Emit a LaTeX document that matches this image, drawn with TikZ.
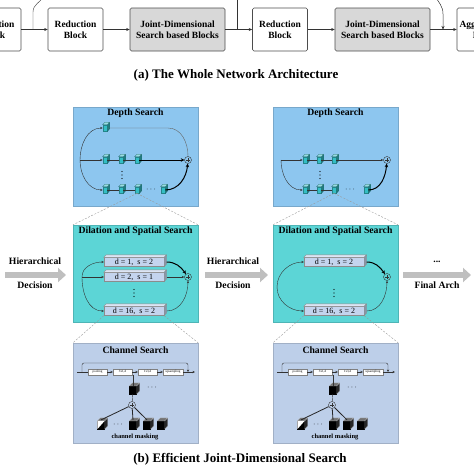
\documentclass[tikz,border=0pt]{standalone}
\usepackage{fontspec}
\setmainfont{Liberation Serif}
\usetikzlibrary{arrows.meta,positioning}
\newcommand\colorLink{black!80}
\newcommand\colorZoom{gray!80}
\definecolor{depthbg}{RGB}{141,198,239}
\definecolor{dilatebg}{RGB}{92,213,214}
\definecolor{chanbg}{RGB}{189,207,233}
\definecolor{cubeteal}{RGB}{52,190,196}
\definecolor{slabblue}{RGB}{196,212,238}
\definecolor{blockgray}{RGB}{216,216,216}

\tikzset{
	netblock/.style={draw=black!70, line width=0.6pt, rounded corners=1.5pt, minimum width=55pt, minimum height=43pt, align=center, inner sep=1pt, font=\fontsize{9.5}{11}\selectfont\bfseries},
	flow/.style={color=\colorLink, line width=0.5pt, -{Stealth[length=3.5pt,width=3pt]}},
	arr/.style={color=\colorLink, line width=0.4pt, -{Stealth[length=2.5pt,width=2.2pt]}},
	boldarr/.style={color=black, line width=1pt, -{Stealth[length=3.5pt,width=3.5pt]}},
	link/.style={color=\colorLink, line width=0.4pt},
	masklink/.style={color=black!85, line width=0.8pt},
	zoomline/.style={color=\colorZoom, line width=0.4pt, dash pattern=on 2pt off 1.5pt},
	panel/.style={fill=#1, draw=#1!85!black, line width=0.3pt, minimum width=125pt, inner sep=0pt},
	paneltitle/.style={font=\fontsize{9.7}{11}\selectfont\bfseries, inner sep=1pt},
	captext/.style={font=\fontsize{13}{15}\selectfont\bfseries},
	decisiontext/.style={font=\fontsize{9.7}{11}\selectfont\bfseries},
	decarrow/.style={draw=gray!50, line width=6pt, -{Triangle[length=8pt,width=14pt]}},
	cubefront/.style={fill=cubeteal, draw=cubeteal!70!black, line width=0.2pt, minimum width=4.5pt, minimum height=6.5pt, inner sep=0pt},
	slabfront/.style={fill=slabblue, draw=black!45, line width=0.3pt, minimum width=60pt, minimum height=9pt, inner sep=0pt, font=\fontsize{8}{8}\selectfont},
	kfront/.style={fill=black, draw=black, line width=0.2pt, minimum width=7pt, minimum height=8pt, inner sep=0pt},
	opbox/.style={fill=white, draw=black!50, line width=0.25pt, minimum width=19pt, minimum height=6pt, inner sep=0pt, font=\fontsize{3.2}{3.2}\selectfont},
	sumnode/.style={circle, draw=black!80, line width=0.4pt, minimum size=7pt, inner sep=0pt, path picture={\draw[line width=0.3pt] ([xshift=-2pt]path picture bounding box.center) -- ([xshift=2pt]path picture bounding box.center) ([yshift=-2pt]path picture bounding box.center) -- ([yshift=2pt]path picture bounding box.center);}},
	hdots/.style={font=\fontsize{8}{8}\selectfont\bfseries, inner sep=0pt},
	masktext/.style={font=\fontsize{6.5}{7}\selectfont\bfseries, inner sep=0pt},
}

\newcommand\tealcube[2]{
	\node[cubefront] (#1) at (#2) {};
	\filldraw[fill=cubeteal!65!black, draw=cubeteal!50!black, line width=0.2pt] (#1.north east) -- ++(2.5,2.5) -- ++(0,-6.5) -- (#1.south east) -- cycle;
	\filldraw[fill=cubeteal!50!white, draw=cubeteal!50!black, line width=0.2pt] (#1.north west) -- ++(2.5,2.5) -- ++(4.5,0) -- (#1.north east) -- cycle;
}
\newcommand\slab[3]{
	\node[slabfront] (#1) at (#2) {#3};
	\filldraw[fill=slabblue!60!white, draw=black!45, line width=0.3pt] (#1.north west) -- ++(2.5,2.5) -- ++(60,0) -- (#1.north east) -- cycle;
	\filldraw[fill=slabblue!70!black, draw=black!45, line width=0.3pt] (#1.north east) -- ++(2.5,2.5) -- ++(0,-9) -- (#1.south east) -- cycle;
}
\newcommand\blackcube[2]{
	\node[kfront] (#1) at (#2) {};
	\filldraw[fill=black!85, draw=white!70!black, line width=0.2pt] (#1.north east) -- ++(3,3) -- ++(0,-8) -- (#1.south east) -- cycle;
	\filldraw[fill=black!55, draw=white!70!black, line width=0.2pt] (#1.north west) -- ++(3,3) -- ++(7,0) -- (#1.north east) -- cycle;
}
\newcommand\vdotsat[2]{
	\foreach \k in {-1,0,1}{
		\fill[black] (#1,#2+\k*3.5) circle (0.7pt);
	}
}

\begin{document}
\begin{tikzpicture}[x=1pt,y=1pt]
	\useasboundingbox (0,0) rectangle (474,-474);
	\clip (0,0) rectangle (474,-474);

	\node[netblock] (red0) at (-6.5,-29.5) {Reduction\\Block};
	\node[netblock] (red1) at (75.5,-29.5) {Reduction\\Block};
	\node[netblock, fill=blockgray, minimum width=95pt] (jds1) at (177.5,-29.5) {Joint-Dimensional\\Search based Blocks};
	\node[netblock] (red2) at (280,-29.5) {Reduction\\Block};
	\node[netblock, fill=blockgray, minimum width=95pt] (jds2) at (382.5,-29.5) {Joint-Dimensional\\Search based Blocks};
	\node[netblock] (agg) at (484.5,-29.5) {Aggregation\\Block};
	\foreach \a/\b in {red0/red1,red1/jds1,jds1/red2,red2/jds2,jds2/agg}{
		\draw[flow] (\a) -- (\b);
	}
	\coordinate (skA) at (33,-29.5);
	\coordinate (skAend) at (44,4);
	\coordinate (skB) at (237,-29.5);
	\coordinate (skBend) at (237,4);
	\coordinate (skCend) at (435,4);
	\coordinate (skC) at (443,-29.5);
	\draw[link] (skA) -- (33,-12) to[out=90,in=-120] (skAend);
	\draw[link] (skB) -- (skBend);
	\draw[flow] (skCend) to[out=-60,in=90] (443,-14) -- (skC);
	\node[captext] (capA) at (236,-75) {(a) The Whole Network Architecture};

	\foreach \s/\ox in {L/0,R/200}{
		\node[panel=depthbg, minimum height=99pt] (dep\s) at (135.5+\ox,-156.5) {};
		\node[panel=dilatebg, minimum height=97pt] (dil\s) at (135.5+\ox,-273.5) {};
		\node[panel=chanbg, minimum height=100pt] (chan\s) at (135.5+\ox,-393) {};
		\node[paneltitle, below=1pt of dep\s.north] (tdep\s) {Depth Search};
		\node[paneltitle, below=1pt of dil\s.north] (tdil\s) {Dilation and Spatial Search};
		\node[paneltitle, below=3pt of chan\s.north] (tchan\s) {Channel Search};
	}

	\coordinate (eDL) at (80,-160);
	\tealcube{cL11}{105,-128}
	\foreach \i/\x in {1/105,2/121,3/137}{
		\tealcube{cL2\i}{\x,-160}
		\tealcube{cL3\i}{\x,-190}
	}
	\tealcube{cL35}{163,-190}
	\node[hdots] (hdL) at (151,-190) {$\cdots$};
	\vdotsat{122}{-175}
	\node[sumnode] (pDL) at (188,-160) {};
	\draw[arr] (eDL) to[out=90,in=180] (cL11);
	\draw[arr] (eDL) -- (cL21);
	\draw[arr] (eDL) to[out=-90,in=180] (cL31);
	\draw[link] (cL21) -- (cL22) -- (cL23);
	\draw[link] (cL31) -- (cL32) -- (cL33);
	\draw[link, color=black!60] (cL11) -- (168,-128) to[out=0,in=90] (pDL);
	\draw[boldarr] (cL23) -- (pDL);
	\draw[boldarr] (cL35) to[out=0,in=-95] (pDL);

	\coordinate (eDR) at (281,-160);
	\foreach \i/\x in {1/305,2/319,3/334}{
		\tealcube{cR1\i}{\x,-160}
		\tealcube{cR2\i}{\x,-190}
	}
	\tealcube{cR25}{366,-190}
	\node[hdots] (hdR) at (350,-190) {$\cdots$};
	\vdotsat{320}{-175}
	\node[sumnode] (pDR) at (387,-160) {};
	\draw[arr] (eDR) -- (cR11);
	\draw[arr] (eDR) to[out=-90,in=180] (cR21);
	\draw[link] (cR11) -- (cR12) -- (cR13);
	\draw[link] (cR21) -- (cR22) -- (cR23);
	\draw[arr] (cR13) -- (pDR);
	\draw[boldarr] (cR25) to[out=0,in=-95] (pDR);

	\draw[zoomline] (cL33.south) -- (dilL.north west);
	\draw[zoomline] (cL33.south) -- (dilL.north east);
	\draw[zoomline] (cR23.south) -- (dilR.north west);
	\draw[zoomline] (cR23.south) -- (dilR.north east);

	\coordinate (eSL) at (82,-277);
	\slab{bL1}{134,-262}{d = 1,\ \ s = 2}
	\slab{bL2}{134,-277}{d = 2,\ \ s = 1}
	\slab{bL3}{134,-311}{d = 16,\ \ s = 2}
	\vdotsat{134}{-293}
	\node[sumnode] (pSL) at (188,-277) {};
	\draw[arr] (eSL) to[out=90,in=180] (bL1);
	\draw[arr] (eSL) -- (bL2);
	\draw[arr] (eSL) to[out=-90,in=180] (bL3);
	\draw[boldarr] ([xshift=2.5pt]bL1.east) to[out=0,in=125] (pSL);
	\draw[arr] ([xshift=2.5pt]bL2.east) -- (pSL);
	\draw[arr] ([xshift=2.5pt]bL3.east) to[out=0,in=-90] (pSL);

	\coordinate (eSR) at (277,-287);
	\slab{bR1}{334,-262}{d = 1,\ \ s = 2}
	\slab{bR3}{334,-311}{d = 16,\ \ s = 2}
	\vdotsat{334}{-293}
	\node[sumnode] (pSR) at (387,-277) {};
	\draw[arr] (eSR) to[out=90,in=180] (bR1);
	\draw[arr] (eSR) to[out=-90,in=180] (bR3);
	\draw[boldarr] ([xshift=2.5pt]bR1.east) to[out=0,in=125] (pSR);
	\draw[arr] ([xshift=2.5pt]bR3.east) to[out=0,in=-90] (pSR);

	\draw[zoomline] (bL3.south west) -- (chanL.north west);
	\draw[zoomline] (bL3.south east) -- (chanL.north east);
	\draw[zoomline] (bR3.south west) -- (chanR.north west);
	\draw[zoomline] (bR3.south east) -- (chanR.north east);

	\foreach \s/\ox in {L/0,R/200}{
		\coordinate (cin\s) at (77+\ox,-372);
		\coordinate (cout\s) at (195+\ox,-372);
		\coordinate (skp\s) at (82+\ox,-372);
		\coordinate (ske\s) at (188+\ox,-372);
		\node[opbox] (poo\s) at (97.5+\ox,-372) {pooling};
		\node[opbox] (cva\s) at (122.5+\ox,-372) {3x1,d};
		\node[opbox] (cvb\s) at (147.5+\ox,-372) {1x3,d};
		\node[opbox, minimum width=20pt] (ups\s) at (173+\ox,-372) {upsampling};
		\draw[link] (cin\s) -- (poo\s);
		\draw[arr] (poo\s) -- (cva\s);
		\draw[arr] (cva\s) -- (cvb\s);
		\draw[arr] (cvb\s) -- (ups\s);
		\draw[arr] (ups\s) -- (cout\s);
		\draw[arr, rounded corners=2pt] (skp\s) -- ++(0,9) -| (ske\s);
		\blackcube{kc\s}{133+\ox,-390}
		\node[hdots] (kd\s) at (152+\ox,-388) {$\cdots$};
		\node[sumnode] (pc\s) at (132+\ox,-405) {};
		\draw[link] (kc\s.north) -- (kc\s.north |- cva\s.south);
		\draw[link] (pc\s) -- (kc\s);
		\blackcube{ma\s}{101+\ox,-425}
		\fill[white] (ma\s.north west) -- (ma\s.north east) -- (ma\s.south west) -- cycle;
		\node[hdots] (md\s) at (118+\ox,-425) {$\cdots$};
		\blackcube{mb\s}{133+\ox,-425}
		\blackcube{mc\s}{147+\ox,-425}
		\blackcube{md\s}{161+\ox,-425}
		\foreach \m in {ma,mb,mc}{
			\draw[masklink] (pc\s) -- ([yshift=1pt]\m\s.north);
		}
		\node[masktext] (ml\s) at (135+\ox,-437) {channel masking};
	}

	\node[decisiontext] (hdA1) at (35,-261) {Hierarchical};
	\node[decisiontext] (hdA2) at (35,-285) {Decision};
	\node[decisiontext] (hdB1) at (233,-261) {Hierarchical};
	\node[decisiontext] (hdB2) at (233,-285) {Decision};
	\node[decisiontext] (fin1) at (437,-262) {...};
	\node[decisiontext] (fin2) at (437,-285) {Final Arch};
	\coordinate (haA) at (5,-275);
	\coordinate (hbA) at (66,-275);
	\coordinate (haB) at (205,-275);
	\coordinate (hbB) at (268,-275);
	\coordinate (haC) at (403,-275);
	\coordinate (hbC) at (471,-275);
	\draw[decarrow] (haA) -- (hbA);
	\draw[decarrow] (haB) -- (hbB);
	\draw[decarrow] (haC) -- (hbC);

	\node[captext] (capB) at (240,-459) {(b) Efficient Joint-Dimensional Search};
\end{tikzpicture}
\end{document}
